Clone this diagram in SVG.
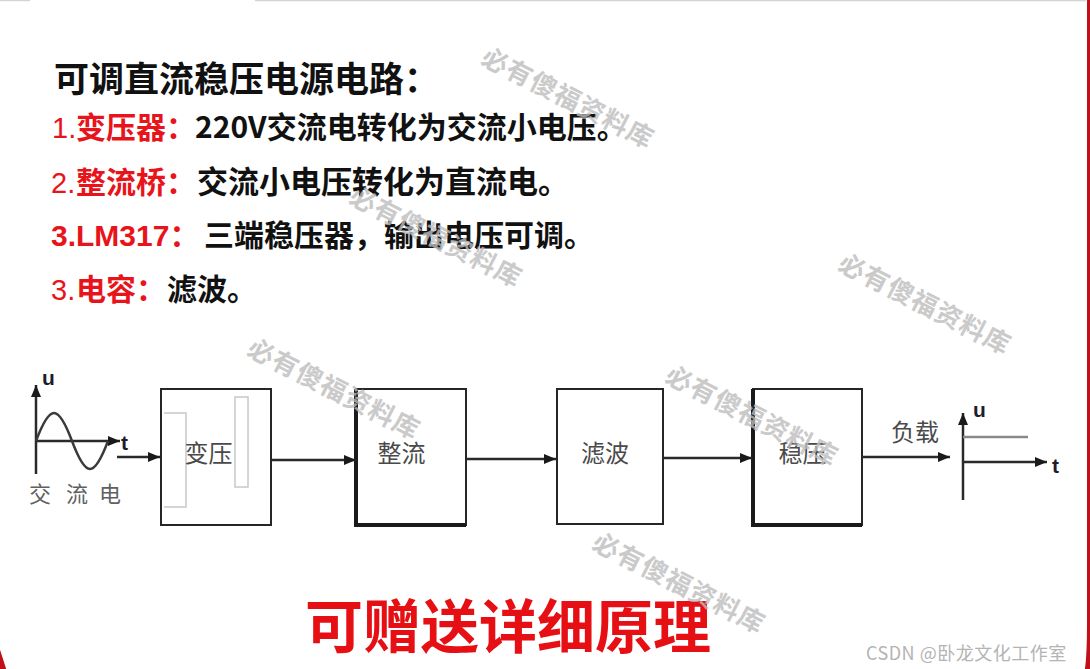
<svg xmlns="http://www.w3.org/2000/svg" width="1090" height="669" viewBox="0 0 1090 669">
<style>
.cjk{font-family:"Noto Sans CJK SC","Liberation Sans",sans-serif}
.title{font-size:35px;font-weight:bold;fill:#111}
.rn{font-family:"Liberation Sans",sans-serif;font-size:29px;fill:#e8141b}
.rc{font-family:"Noto Sans CJK SC",sans-serif;font-size:30px;font-weight:bold;fill:#e8141b}
.rb{font-family:"Liberation Sans",sans-serif;font-size:30px;font-weight:bold;fill:#e8141b}
.bk{font-family:"Noto Sans CJK SC",sans-serif;font-size:30px;font-weight:bold;fill:#111}
.box{fill:#fff;stroke:#262626;stroke-width:2}
.thick{stroke:#1a1a1a;stroke-width:4;fill:none}
.inner{fill:none;stroke:#c8c8c8;stroke-width:1.5}
.lbl{font-family:"Noto Sans CJK SC",sans-serif;font-size:24px;fill:#4a4a4a;text-anchor:middle}
.ax{stroke:#2a2a2a;stroke-width:2.5;fill:none}
.ltr{font-family:"Liberation Sans",sans-serif;font-size:21px;font-weight:bold;fill:#1e1e2a}
.wm{font-family:"Noto Sans CJK SC",sans-serif;font-size:26px;font-weight:bold;fill:#bdbdbd;opacity:0.8;text-anchor:middle;dominant-baseline:central;letter-spacing:1px}
</style>
<defs>
<marker id="ah" markerUnits="userSpaceOnUse" markerWidth="13" markerHeight="10" refX="12" refY="5" orient="auto">
<path d="M0,0 L12,5 L0,10 Z" fill="#1a1a1a"/>
</marker>
</defs>

<rect x="0" y="0" width="1090" height="669" fill="#c0111a"/>
<path d="M-10,-10 H1087 V625 Q1087,660 1084,675 H8 Q2,655 -10,620 Z" fill="#fff"/>
<line x1="0" y1="0.5" x2="30" y2="0.5" stroke="#d4d4d4" stroke-width="1.5"/>
<line x1="255" y1="0.5" x2="1086" y2="0.5" stroke="#d4d4d4" stroke-width="1.5"/>

<g id="text-block">
<text x="54" y="92" class="cjk title">可调直流稳压电源电路：</text>
<text y="138"><tspan class="rn" x="52">1.</tspan><tspan class="rc" x="76">变压器：</tspan><tspan class="bk" x="195">220V交流电转化为交流小电压。</tspan></text>
<text y="193"><tspan class="rn" x="51">2.</tspan><tspan class="rc" x="76">整流桥：</tspan><tspan class="bk" x="197" style="font-size:31px">交流小电压转化为直流电。</tspan></text>
<text y="246"><tspan class="rb" x="51">3.LM317</tspan><tspan class="rc">：</tspan><tspan class="bk" x="204">三端稳压器，输出电压可调。</tspan></text>
<text y="300"><tspan class="rn" x="51">3.</tspan><tspan class="rc" x="76">电容：</tspan><tspan class="bk" x="167">滤波。</tspan></text>
</g>

<g id="input-wave">
<line class="ax" x1="36" y1="474" x2="36" y2="385" marker-end="url(#ah)"/>
<line class="ax" x1="36" y1="441" x2="120" y2="441" marker-end="url(#ah)"/>
<path d="M36,441 C42,425 48,413 54,413 C60,413 66,425 72,441 C78,457 84,469 90,469 C96,469 102,457 108,441" fill="none" stroke="#3a3a3a" stroke-width="2.5"/>
<text x="42" y="385" class="ltr">u</text>
<text x="121" y="450" class="ltr">t</text>
<text x="29 52 66 88 99" y="502" style="font-family:'Noto Sans CJK SC',sans-serif;font-size:22px;fill:#606060">交 流 电</text>
</g>

<g id="node-transformer">
<rect class="box" x="161" y="389" width="110" height="136"/>
<path class="inner" d="M164,413 H186 V507 H164"/>
<rect class="inner" x="235" y="397" width="13" height="90"/>
<text x="208.5" y="462" class="lbl">变压</text>
</g>

<g id="node-rectifier">
<rect class="box" x="356" y="389" width="110" height="136"/>
<path class="thick" d="M356,389 V525 H466"/>
<text x="401.5" y="462" class="lbl">整流</text>
</g>

<g id="node-filter">
<rect class="box" x="557" y="389" width="106" height="135"/>
<text x="605" y="462" class="lbl">滤波</text>
</g>

<g id="node-regulator">
<rect class="box" x="753" y="389" width="109" height="136"/>
<path class="thick" d="M753,389 V525 H862"/>
<text x="802.5" y="462" class="lbl">稳压</text>
</g>

<g id="output-wave">
<line class="ax" x1="963" y1="500" x2="963" y2="413" marker-end="url(#ah)"/>
<line x1="963" y1="437" x2="1028" y2="437" stroke="#8a8a8a" stroke-width="2.5"/>
<line class="ax" x1="963" y1="462" x2="1047" y2="462" marker-end="url(#ah)"/>
<text x="973" y="417" class="ltr">u</text>
<text x="1052" y="473" class="ltr">t</text>
</g>

<g id="connectors">
<line class="ax" x1="117" y1="457" x2="160" y2="457" marker-end="url(#ah)"/>
<line class="ax" x1="271" y1="460" x2="356" y2="460" marker-end="url(#ah)"/>
<line class="ax" x1="466" y1="459" x2="556" y2="459" marker-end="url(#ah)"/>
<line class="ax" x1="663" y1="458" x2="752" y2="458" marker-end="url(#ah)"/>
<line class="ax" x1="862" y1="457" x2="950" y2="457" marker-end="url(#ah)"/>
<text x="915" y="441" class="lbl">负载</text>
</g>

<text x="508" y="648" style="font-family:'Noto Sans CJK SC',sans-serif;font-size:58px;font-weight:bold;fill:#e60f14;text-anchor:middle">可赠送详细原理</text>
<text x="866" y="660" style="font-family:'Noto Sans CJK SC',sans-serif;font-size:18px;fill:#b4b4b4;letter-spacing:0.5px">CSDN @卧龙文化工作室</text>

<g id="watermarks">
<text class="wm" x="569" y="96" transform="rotate(27 569 96)">必有傻福资料库</text>
<text class="wm" x="437" y="235" transform="rotate(27 437 235)">必有傻福资料库</text>
<text class="wm" x="926" y="302" transform="rotate(27 926 302)">必有傻福资料库</text>
<text class="wm" x="335" y="387" transform="rotate(27 335 387)">必有傻福资料库</text>
<text class="wm" x="753" y="414" transform="rotate(27 753 414)">必有傻福资料库</text>
<text class="wm" x="680" y="581" transform="rotate(27 680 581)">必有傻福资料库</text>
</g>
</svg>
